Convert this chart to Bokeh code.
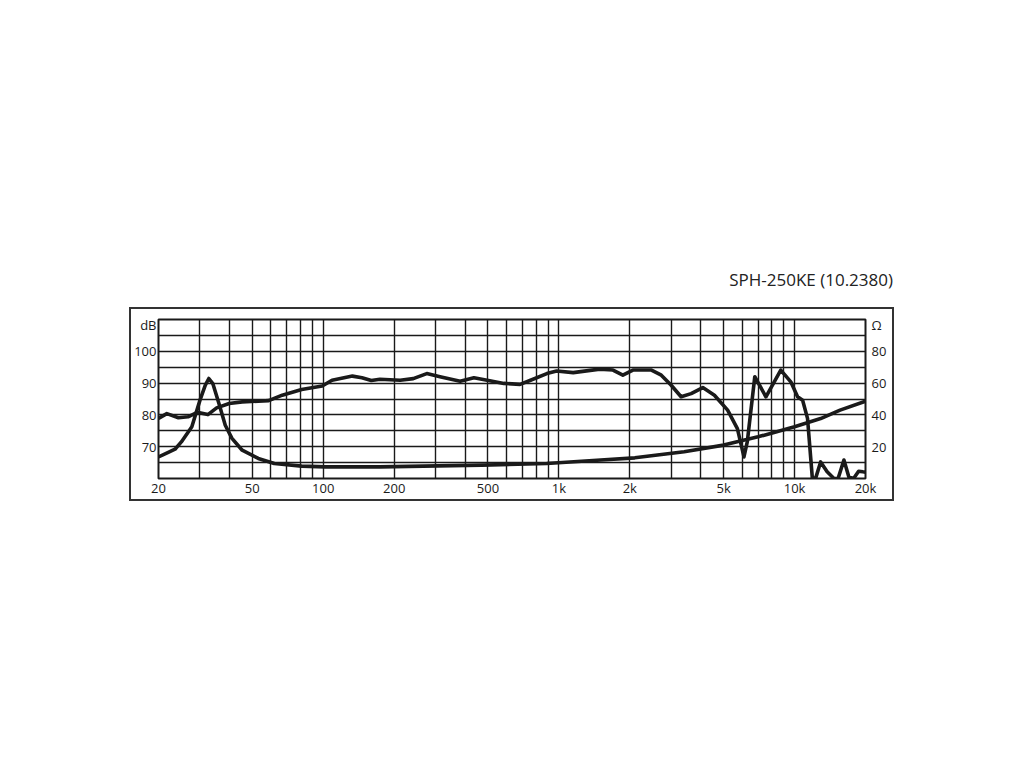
from bokeh.plotting import figure
from bokeh.models import Range1d, LinearAxis, FixedTicker, Div, CustomJSTickFormatter
from bokeh.layouts import column
from bokeh.embed import file_html
from bokeh.resources import INLINE

# ---- data ----
spl_freq = [20, 21.7, 24.3, 26.7, 29.2, 32.4, 35.3, 39.9, 45.3, 53, 58.7, 67, 81, 99,
            109, 133, 146, 160, 174, 212, 241, 275, 313, 381, 436, 496, 584, 684, 758,
            889, 978, 1150, 1490, 1696, 1868, 2060, 2470, 2720, 2990, 3300, 3640, 4080,
            4570, 5200, 5720, 6100, 6300, 6780, 7560, 8740, 9640, 10300, 10820, 11350,
            11900, 12300, 12900, 13750, 14700, 15300, 16200, 17000, 17800, 18700, 19500, 20000]
spl_db = [78.9, 80.4, 79.1, 79.4, 80.8, 80.1, 82.2, 83.6, 84.1, 84.3, 84.5, 86.2, 88.0, 89.1,
          90.9, 92.2, 91.7, 90.8, 91.2, 90.9, 91.4, 93.0, 92.0, 90.6, 91.7, 90.9, 89.9, 89.6, 90.9,
          93.0, 93.8, 93.3, 94.4, 94.1, 92.5, 94.1, 94.1, 92.5, 89.4, 85.7, 86.7, 88.6,
          86.2, 81.5, 75.7, 66.8, 71.5, 92.0, 85.7, 94.1, 90.4, 85.7, 84.6, 78.9,
          60.0, 60.2, 65.2, 62.1, 60.0, 60.0, 65.8, 60.5, 60.0, 62.3, 62.1, 62.0]

imp_freq = [20, 22, 23.5, 25, 27.7, 30, 31.6, 32.7, 34, 36.1, 38.4, 41, 45.3, 53, 62, 81,
            102, 174, 470, 889, 1450, 2100, 3400, 5000, 7000, 10000, 12900, 15600, 20000]
imp_ohm = [13.6, 16.4, 18.4, 23.0, 32.5, 49.3, 58.7, 62.9, 59.7, 47.2, 33.5, 25.2, 17.8, 12.6,
           9.4, 7.8, 7.3, 7.3, 8.4, 9.4, 11.5, 13.0, 16.8, 21.0, 26.2, 32.5, 37.7, 43.0, 48.6]

x_labels = [20, 50, 100, 200, 500, 1000, 2000, 5000, 10000, 20000]
x_grid = [20, 30, 40, 50, 60, 70, 80, 90, 100, 200, 300, 400, 500, 600, 700, 800, 900,
          1000, 2000, 3000, 4000, 5000, 6000, 7000, 8000, 9000, 10000, 20000]
db_ticks = [70, 80, 90, 100]
db_grid = [60, 65, 70, 75, 80, 85, 90, 95, 100, 105, 110]
ohm_ticks = [20, 40, 60, 80]
title_text = "SPH-250KE (10.2380)"

FONT = "Open Sans"
INK = "#1a1a1a"

title_div = Div(text=title_text, width=763, height=22, margin=(269, 0, 0, 130),
                styles={"text-align": "right", "font-family": FONT, "font-size": "17px",
                        "color": "#222222", "line-height": "22px"})

p = figure(x_axis_type="log", x_range=Range1d(20, 20000), y_range=Range1d(60, 110),
           frame_width=707, frame_height=159,
           min_border_left=27, min_border_right=27, min_border_top=10, min_border_bottom=19,
           output_backend="svg", toolbar_location=None, background_fill_color="white",
           border_fill_color="white", margin=(18, 0, 0, 131),
           styles={"outline": "2px solid #333333", "outline-offset": "0px"})
p.outline_line_color = INK
p.outline_line_width = 2
p.outline_line_alpha = 1

p.extra_y_ranges = {"ohm": Range1d(0, 100)}

# grids
p.xgrid.ticker = FixedTicker(ticks=x_grid)
p.ygrid.ticker = FixedTicker(ticks=db_grid)
for g in (p.xgrid, p.ygrid):
    g.grid_line_color = INK
    g.grid_line_width = 1.4
    g.grid_line_alpha = 1

# bottom axis
xa = p.xaxis[0]
xa.ticker = FixedTicker(ticks=x_labels)
xa.formatter = CustomJSTickFormatter(code="""
const m = {20:'20',50:'50',100:'100',200:'200',500:'500',1000:'1k',2000:'2k',5000:'5k',10000:'10k',20000:'20k'};
return m[Math.round(tick)] ?? '';
""")

# left axis
ya = p.yaxis[0]
ya.ticker = FixedTicker(ticks=db_ticks + [108.4])
ya.major_label_overrides = {108.4: "dB"}

# right axis
ra = LinearAxis(y_range_name="ohm", ticker=FixedTicker(ticks=ohm_ticks + [96.8]))
ra.major_label_overrides = {96.8: "\u03a9"}
p.add_layout(ra, "right")

for ax in (xa, ya, ra):
    ax.axis_line_color = None
    ax.major_tick_line_color = None
    ax.minor_tick_line_color = None
    ax.major_tick_out = 0
    ax.major_tick_in = 0
    ax.minor_tick_out = 0
    ax.minor_tick_in = 0
    ax.axis_label_standoff = 0
    ax.major_label_text_font = FONT
    ax.major_label_text_font_size = "13px"
    ax.major_label_text_color = INK
ya.major_label_standoff = 2
xa.major_label_standoff = 0
ra.major_label_standoff = 6

# curves
p.line(spl_freq, spl_db, line_color=INK, line_width=3.6, line_join="round")
p.line(imp_freq, imp_ohm, y_range_name="ohm", line_color=INK, line_width=3.6, line_join="round")

layout = column(title_div, p)
open("out.html", "w").write(file_html(layout, INLINE))
